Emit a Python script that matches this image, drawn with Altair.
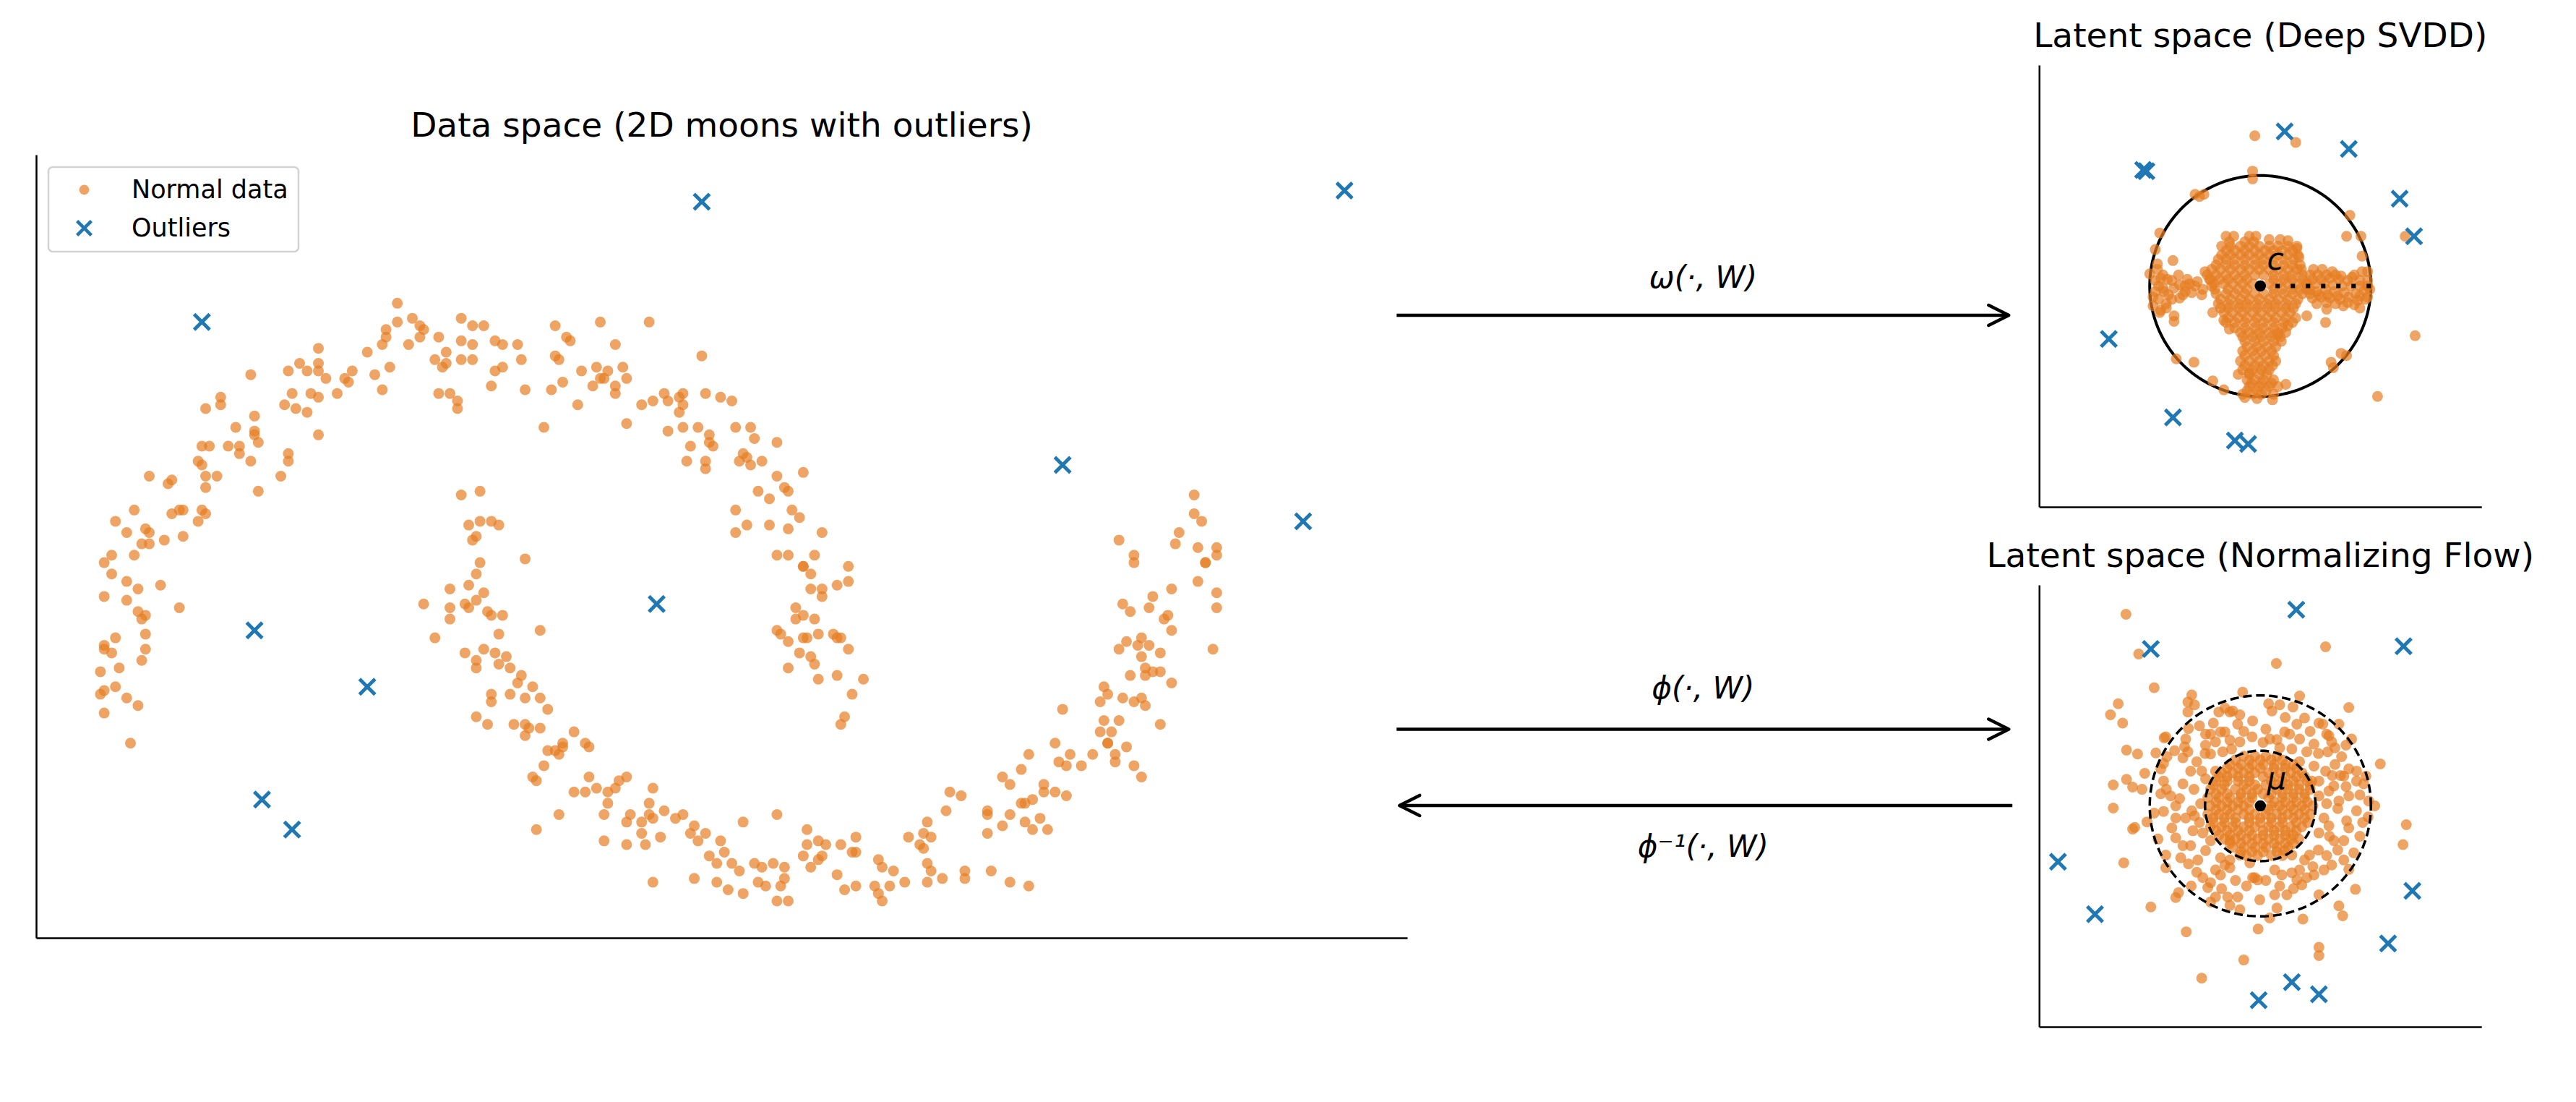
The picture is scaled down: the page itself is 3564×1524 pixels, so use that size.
import altair as alt
import pandas as pd

# ---------------------------------------------------------------- data space: 2D moons
# upper moon (data units)
moon_up_a_x = [-0.21,-0.21,-0.17,-0.15,-0.14,-0.24,-0.24,-0.25,-0.29,-0.18,
               -0.15,-0.10,-0.04,-0.01,0.02,-0.04,-0.01,-0.08,-0.11,-0.08,
               -0.09,-0.04,-0.01,0.05,0.07,0.11,0.05,0.07,0.12,0.04,
               0.13,0.21,0.24,0.25,0.33,0.37,0.46,0.21,0.22,0.23,
               0.20,0.28,0.32,0.35,0.39,0.40,0.33,0.34,0.31,0.37,
               0.37,0.27,0.18,0.40,0.44,0.47,0.50,0.51,0.54,0.55,
               0.55,0.54,0.55,0.51,0.57,0.56]
moon_up_a_y = [1.03,0.98,0.99,0.97,0.96,0.96,0.94,0.92,0.90,0.92,
               0.94,0.94,0.99,0.97,0.97,0.93,0.92,0.90,0.88,0.87,
               0.86,0.88,0.88,0.93,0.92,0.92,0.85,0.86,0.88,0.81,
               0.80,0.97,0.94,0.93,0.98,0.92,0.98,0.89,0.88,0.82,
               0.80,0.85,0.86,0.85,0.86,0.83,0.83,0.83,0.81,0.81,
               0.79,0.76,0.70,0.71,0.76,0.77,0.79,0.77,0.78,0.79,
               0.76,0.74,0.70,0.69,0.65,0.61]
moon_up_b_x = [-0.42,-0.47,-0.45,-0.42,-0.42,-0.50,-0.40,-0.35,-0.33,-0.34,
               -0.37,-0.27,-0.23,-0.25,-0.60,-0.49,-0.51,-0.48,-0.45,-0.44,
               -0.42,-0.42,-0.68,-0.68,-0.72,-0.59,-0.64,-0.59,-0.59,-0.58,
               -0.66,-0.63,-0.63,-0.60,-0.73,-0.71,-0.50,-0.50,-0.52,-0.74,
               -0.73,-0.72,-0.69,-0.72,-0.87,-0.82,-0.81,-0.58,-0.10,-0.07,
               -0.05,-0.05]
moon_up_b_y = [0.91,0.87,0.85,0.87,0.85,0.85,0.83,0.83,0.85,0.82,
               0.79,0.84,0.86,0.80,0.84,0.79,0.76,0.75,0.74,0.79,
               0.78,0.68,0.78,0.76,0.75,0.73,0.70,0.69,0.68,0.66,
               0.65,0.65,0.63,0.61,0.65,0.65,0.63,0.61,0.57,0.61,
               0.60,0.57,0.57,0.54,0.57,0.55,0.56,0.53,0.79,0.79,
               0.77,0.75]
moon_up_c_x = [-0.91,-0.81,-0.79,-0.78,-0.73,-0.72,-0.74,-0.96,-0.93,-0.88,
               -0.87,-0.83,-0.78,-0.89,-0.87,-0.99,-0.97,-0.91,-0.97,-0.93,
               -0.90,-0.84,-0.99,-0.93,-0.90,-0.88,-0.89,-0.79,-0.88,-0.96,
               -0.99,-0.99,-0.97,-0.88,-0.89,-0.95,-1.00,-1.00,-0.99,-0.96,
               -0.93,-0.90,-0.99,-0.92]
moon_up_c_y = [0.48,0.47,0.48,0.48,0.48,0.47,0.45,0.45,0.42,0.43,
               0.42,0.40,0.41,0.39,0.39,0.34,0.36,0.36,0.31,0.29,
               0.27,0.28,0.25,0.24,0.21,0.20,0.19,0.22,0.15,0.14,
               0.12,0.11,0.10,0.11,0.08,0.06,0.05,-0.01,0.00,0.01,
               -0.02,-0.04,-0.06,-0.14]
moon_up_d_x = [0.60,0.61,0.65,0.68,0.59,0.62,0.62,0.63,0.69,0.73,
               0.74,0.80,0.71,0.72,0.70,0.73,0.76,0.61,0.61,0.80,
               0.82,0.83,0.75,0.78,0.87,
               0.69,0.84,0.86,0.69,0.72,0.78,0.83,0.92,0.80,0.83,
               0.90,0.87,0.87,0.89,0.99,0.89,0.92,0.92,0.96,0.99,
               0.85,0.85,0.87,0.90,0.80,0.81,0.83,0.87,0.88,0.91,
               0.95,0.97,0.96,0.99,0.86,0.89,0.90,0.83,0.91,0.96,
               1.03,1.00,0.98,0.97]
moon_up_d_y = [0.89,0.79,0.78,0.77,0.70,0.68,0.66,0.65,0.70,0.70,
               0.67,0.66,0.63,0.62,0.61,0.60,0.61,0.61,0.59,0.57,
               0.54,0.53,0.53,0.51,0.58,
               0.48,0.48,0.46,0.42,0.44,0.44,0.43,0.42,0.36,0.36,
               0.36,0.33,0.33,0.31,0.33,0.27,0.27,0.25,0.28,0.29,
               0.22,0.19,0.20,0.19,0.16,0.15,0.13,0.14,0.14,0.15,
               0.15,0.14,0.14,0.11,0.10,0.09,0.07,0.06,0.03,0.04,
               0.03,-0.01,-0.07,-0.09]
# lower moon
moon_lo_a_x = [-0.04,0.01,1.91,
               -0.02,0.01,0.04,0.06,-0.01,0.00,0.13,0.01,0.00,-0.02,
               -0.07,0.02,0.00,-0.03,-0.02,-0.14,-0.07,-0.07,0.03,0.04,
               0.07,0.06,0.17,-0.11,-0.03,0.02,0.05,0.08,0.00,0.00,
               0.06,0.09,0.12,0.11,0.15,0.04,0.09,0.13,0.17,0.04,
               0.19,0.00,0.03,0.10,0.13,0.14,0.17,0.13,0.26,0.23,
               0.23,0.29,0.30,0.19,0.21,0.22,0.18,0.15,0.16,0.30,
               0.40,0.38,0.37,0.35,0.26,0.29,0.32,0.47,0.35,0.34,
               0.46,0.50,0.46,0.47,0.44,0.41,0.40,0.53,0.55,0.22,
               0.16,0.57,0.34,0.40,0.45,0.44,0.49,0.47]
moon_lo_a_y = [0.52,0.53,0.52,
               0.44,0.45,0.45,0.44,0.40,0.41,0.35,0.34,0.31,0.28,
               0.27,0.26,0.24,0.23,0.22,0.23,0.22,0.19,0.21,0.20,
               0.20,0.15,0.16,0.14,0.10,0.11,0.10,0.09,0.08,0.06,
               0.07,0.06,0.04,0.02,0.01,-0.01,-0.01,-0.02,-0.02,-0.03,
               -0.05,-0.07,-0.09,-0.09,-0.09,-0.10,-0.10,-0.12,-0.11,-0.14,
               -0.15,-0.14,-0.15,-0.16,-0.16,-0.17,-0.20,-0.23,-0.24,-0.23,
               -0.23,-0.24,-0.26,-0.27,-0.27,-0.27,-0.26,-0.26,-0.30,-0.33,
               -0.30,-0.32,-0.33,-0.34,-0.35,-0.33,-0.35,-0.34,-0.33,-0.33,
               -0.37,-0.38,-0.40,-0.41,-0.41,-0.38,-0.39,-0.51]
moon_lo_b_x = [1.91,1.93,1.87,1.86,1.92,1.97,1.97,1.94,1.94,1.71,
               1.75,1.75,1.85,1.80,1.79,1.72,1.74,1.84,1.83,1.85,
               1.97,1.97,1.92,1.96,1.73,1.71,1.76,1.77,1.79,1.77,
               1.82,1.78,1.78,1.74,1.80,1.82,1.85,1.67,1.68,1.66,
               1.72,1.75,1.77,1.78,1.56,1.67,1.71,1.66,1.69,1.68,
               1.68,1.73,1.82,1.70,1.70,1.75,1.77,1.54,1.58,1.55,
               1.57,1.61,1.64,1.47,1.45,1.40,1.42,1.51,1.51,1.54,
               1.57,1.45,1.46,1.48,1.26,1.29,1.25,1.36,1.36,1.42,
               1.40,1.46,1.50,1.48,1.52,1.36,1.20,1.15,1.19,1.21,
               1.18,1.19,0.80,0.71,0.88,0.91,0.88,0.93,0.97,1.01,
               1.01,1.00,0.87,0.92,0.91,0.89,0.65,0.62,0.66,0.64,
               0.68,0.70,0.74,0.76,0.79,0.82,0.82,0.81,0.80,0.83,
               0.75,0.77,0.71,0.67,0.64,0.58,0.59,0.61,0.58,0.96,
               0.98,1.01,1.07,1.08,1.11,1.06,1.07,1.08,1.10,1.14,
               1.20,1.21,1.24,1.20,1.30,1.30,1.37,1.42,1.47]
moon_lo_b_y = [0.47,0.45,0.42,0.39,0.38,0.38,0.36,0.34,0.34,0.40,
               0.36,0.34,0.27,0.25,0.22,0.23,0.21,0.20,0.19,0.16,
               0.26,0.22,0.29,0.11,0.13,0.11,0.12,0.14,0.12,0.09,
               0.10,0.06,0.04,0.04,0.05,0.05,0.02,0.01,-0.01,-0.03,
               -0.02,-0.03,-0.02,-0.04,-0.05,-0.08,-0.08,-0.11,-0.11,-0.14,
               -0.14,-0.15,-0.09,-0.17,-0.19,-0.20,-0.23,-0.14,-0.17,-0.19,
               -0.20,-0.20,-0.17,-0.17,-0.21,-0.23,-0.25,-0.25,-0.27,-0.27,
               -0.28,-0.30,-0.30,-0.29,-0.27,-0.28,-0.32,-0.32,-0.33,-0.33,
               -0.36,-0.35,-0.34,-0.37,-0.37,-0.38,-0.35,-0.39,-0.38,-0.39,
               -0.41,-0.42,-0.33,-0.35,-0.37,-0.40,-0.41,-0.41,-0.41,-0.39,
               -0.43,-0.43,-0.44,-0.44,-0.45,-0.47,-0.40,-0.44,-0.43,-0.46,
               -0.46,-0.48,-0.46,-0.47,-0.46,-0.47,-0.50,-0.52,-0.56,-0.56,
               -0.51,-0.52,-0.54,-0.53,-0.51,-0.50,-0.40,-0.38,-0.36,-0.49,
               -0.53,-0.52,-0.45,-0.47,-0.48,-0.52,-0.54,-0.56,-0.52,-0.51,
               -0.46,-0.48,-0.50,-0.51,-0.48,-0.50,-0.48,-0.51,-0.52]
data_out_x = [-0.73, 0.60, 2.31, -0.59, -0.29, 0.48, 1.56, 2.20, -0.57, -0.49]
data_out_y = [0.98, 1.30, 1.33, 0.16, 0.01, 0.23, 0.60, 0.45, -0.29, -0.37]
DATA_XDOM = [-1.171, 2.477]
DATA_YDOM = [-0.658, 1.425]

# ---------------------------------------------------------------- latent space: Deep SVDD
svdd_edge_x = [-0.05,0.32,-0.07,-0.07,-0.59,-0.55,-0.51,0.81,0.78,0.91,
               1.31,-0.91,-0.95,-0.79,-0.93,-1.00,0.92,0.97,0.85,1.40,
               1.06,0.60,0.59,0.42,0.73,0.78,0.64,0.66,-0.76,-0.60,
               -0.43,-0.33,-0.78,-0.78,-0.43,-0.91,0.23,-0.14,-0.03,0.11,
               -0.20,-0.10]
svdd_edge_y = [1.36,1.30,1.04,0.97,0.83,0.81,0.83,0.64,0.45,0.45,
               0.45,0.48,0.33,0.23,0.20,0.11,0.27,0.13,0.10,-0.45,
               -1.00,-0.21,-0.33,-0.27,-0.61,-0.63,-0.69,-0.74,-0.66,-0.69,
               -0.86,-0.94,-0.27,-0.32,-0.24,-0.24,-0.89,-1.01,-1.02,-1.03,
               -0.80,-0.79]
svdd_band_x = [-0.90,-0.84,-0.92,-0.87,-0.83,-0.97,-0.92,-0.85,-0.90,-0.74,
               -0.73,-0.68,-0.64,-0.73,-0.70,-0.59,-0.53,-0.52,-0.50,-0.46,
               -0.44,-0.95,-0.88,-0.80,-0.78,-0.95,-0.88,-0.80,-0.68,-0.62,
               -0.57,-0.66,-0.85,-0.97,-0.93,
               0.48,0.56,0.65,0.73,0.92,0.47,0.55,0.63,0.71,0.79,
               0.42,0.51,0.59,0.67,0.76,0.86,0.94,0.99,0.47,0.55,
               0.63,0.72,0.79,0.88,0.95,0.75,0.90,0.51,
               0.45,0.52,0.60,0.68,0.83,0.90,0.97,0.45,0.53,0.61,
               0.70,0.80,0.90,0.97,0.60,0.68,0.85,0.42,0.50,0.58,
               0.66,0.74,0.82,0.90,0.97,
               0.18,0.33,0.35,0.25,0.08,0.37,0.32,0.25,0.16,-0.28,-0.33]
svdd_band_y = [0.07,0.06,0.00,-0.05,-0.08,-0.10,-0.12,-0.16,-0.22,0.10,
               0.01,0.00,0.02,-0.11,-0.08,0.00,-0.08,-0.03,0.13,0.06,
               0.00,0.05,0.10,0.05,-0.02,-0.05,-0.02,-0.12,-0.05,-0.06,
               0.04,0.06,-0.20,-0.18,0.15,
               0.15,0.15,0.13,0.09,0.13,0.06,0.06,0.07,0.06,0.05,
               -0.03,-0.05,-0.03,-0.05,-0.06,-0.07,-0.04,-0.03,-0.11,-0.10,
               -0.11,-0.12,-0.15,-0.13,-0.12,-0.18,-0.20,-0.16,
               0.10,0.10,0.10,0.10,0.08,0.05,0.05,-0.07,-0.08,-0.08,
               -0.09,-0.10,-0.09,-0.10,-0.15,-0.16,-0.17,0.02,0.02,0.02,
               0.01,0.00,0.00,0.00,0.00,
               0.42,0.34,0.26,0.41,0.42,0.15,-0.29,-0.36,-0.44,-0.39,-0.31]
# dense core, read row by row (row height, x positions in that row)
svdd_core_row_y = [0.45, 0.40, 0.36, 0.32, 0.28, 0.24, 0.19, 0.15, 0.10, 0.06,
                   0.02, -0.03, -0.07, -0.12, -0.16, -0.20, -0.24, -0.29, -0.33,
                   -0.38, -0.42, -0.46, -0.50, -0.55, -0.59, -0.63, -0.68, -0.72,
                   -0.76, -0.80, -0.85, -0.88, -0.91, -0.95, -0.98]
svdd_core_row_x = [
    [-0.31,-0.24,-0.10,-0.04],
    [-0.28,-0.14,-0.06],
    [-0.35,-0.27,-0.18,-0.10,-0.01,0.08,0.16,0.25,0.33],
    [-0.31,-0.23,-0.14,-0.05,0.04,0.12,0.20,0.29],
    [-0.35,-0.27,-0.18,-0.10,-0.01,0.08,0.16,0.25,0.34],
    [-0.38,-0.31,-0.23,-0.14,-0.05,0.03,0.12,0.21,0.30],
    [-0.40,-0.31,-0.23,-0.14,-0.05,0.03,0.12,0.21,0.29,0.36],
    [-0.44,-0.36,-0.27,-0.18,-0.10,-0.01,0.08,0.16,0.25,0.33],
    [-0.48,-0.40,-0.31,-0.23,-0.14,-0.05,0.03,0.12,0.21,0.29,0.38],
    [-0.45,-0.37,-0.29,-0.20,-0.12,0.12,0.21,0.29,0.38],
    [-0.42,-0.33,-0.25,-0.16,-0.07,0.08,0.16,0.25,0.34,0.42],
    [-0.41,-0.29,-0.20,-0.12,0.12,0.20,0.29,0.36,0.45],
    [-0.40,-0.31,-0.23,-0.14,-0.05,0.03,0.12,0.21,0.29,0.38],
    [-0.36,-0.27,-0.18,-0.10,-0.01,0.08,0.16,0.25,0.34],
    [-0.38,-0.29,-0.20,-0.12,-0.03,0.06,0.14,0.23,0.32],
    [-0.36,-0.29,-0.20,-0.12,-0.03,0.06,0.14,0.23,0.30],
    [-0.33,-0.25,-0.16,-0.07,0.01,0.10,0.19,0.27],
    [-0.29,-0.20,-0.12,-0.03,0.06,0.14,0.23],
    [-0.31,-0.23,-0.14,-0.05,0.03,0.12,0.21,0.29],
    [-0.23,-0.14,-0.05,0.03,0.12,0.20],
    [-0.18,-0.10,-0.01,0.08,0.16,0.23],
    [-0.16,-0.07,0.01,0.10,0.18],
    [-0.14,-0.05,0.03,0.12,0.19],
    [-0.12,-0.03,0.06,0.14],
    [-0.16,-0.07,0.01,0.10],
    [-0.14,-0.05,0.04,0.12],
    [-0.18,-0.10,-0.01,0.08,0.14],
    [-0.14,-0.05,0.03,0.11],
    [-0.16,-0.07,0.01,0.08],
    [-0.10,-0.01,0.06],
    [-0.12,-0.05,0.03,0.12],
    [-0.08,0.01,0.10],
    [-0.10,-0.01,0.08,0.16],
    [-0.12,-0.03,0.05],
    [-0.16,-0.07,0.01,0.12],
]
svdd_out_x = [0.22, 0.80, -1.06, -1.03, 1.26, 1.39, -1.37, -0.79, -0.23, -0.11]
svdd_out_y = [1.40, 1.24, 1.05, 1.04, 0.79, 0.45, -0.48, -1.19, -1.40, -1.43]
SVDD_R = 1.0
SVDD_DOM = [-2.0, 2.0]

# ---------------------------------------------------------------- latent space: normalizing flow
flow_outer_x = [-2.43,-2.20,1.18,0.29,-1.92,-2.57,-2.71,-2.49,1.60,2.17,
                2.64,2.58,-2.42,-2.22,-2.66,-2.66,-2.09,-2.14,-2.42,-2.31,
                -2.31,-2.27,-2.47,-1.98,-2.05,-1.92,-1.89,-1.74,-1.75,-1.34,
                -0.30,-1.06,-0.04,0.77,1.06,1.06,1.42,1.49,1.72,0.71,
                -0.32,-1.24,-1.31]
flow_outer_y = [3.47,2.75,2.88,2.58,2.14,1.85,1.65,1.50,1.78,0.76,
                -0.34,-0.70,1.01,0.94,0.38,-0.04,0.59,0.30,0.48,0.34,
                -0.42,-0.39,-1.03,-1.83,-0.29,-0.13,0.96,1.23,0.77,-2.28,
                -2.79,-3.12,-2.23,-2.05,-2.56,-2.71,-1.81,-1.99,-1.51,1.99,
                2.06,2.01,1.88]
flow_ring_x = [-1.31,-1.19,-1.71,-1.35,-1.37,-1.31,-1.40,-0.99,-0.90,-0.72,
               -0.64,-0.55,-0.99,-0.81,-0.90,-0.68,-0.52,-0.37,-0.41,-0.55,
               -1.15,-1.26,-1.06,-1.69,-1.80,-1.75,-1.80,-1.62,-1.46,-1.53,
               -1.24,-1.19,-1.08,-0.99,-0.81,
               -0.50,-0.37,-0.64,-0.14,0.21,0.35,0.59,0.80,1.06,1.20,1.42,
               0.10,0.17,0.44,0.53,0.66,0.71,0.57,0.71,0.84,0.97,
               1.13,1.24,1.29,1.22,1.47,1.65,1.60,1.74,1.74,1.87,
               1.91,1.51,1.33,1.24,1.06,1.20,1.42,1.60,1.74,1.96,
               2.07,0.97,1.06,0.93,1.18,
               1.15,1.24,1.06,1.33,1.56,1.60,1.51,1.69,1.51,1.29,
               1.15,0.97,0.84,0.80,0.89,0.71,0.66,0.57,0.39,0.26,
               0.48,0.26,-0.01,-0.10,0.17,0.75,1.06,0.57,0.44,
               -1.53,-1.35,-1.53,-1.40,-1.44,-1.26,-1.71,-1.71,-1.48,-1.53,
               -1.04,-0.90,-0.72,-0.64,-0.81,-0.95,-0.81,-0.59,-0.41,-0.37,
               -0.90,-1.13,-0.99,-1.22,-1.04,-0.90,-0.72,-0.55,-0.37,-0.14,
               -0.05,-0.55,-0.19,-0.55,
               -1.10,-0.85,-0.30,-0.15,0.05,0.30,0.35,0.90,1.05,1.35,
               1.45,1.30,1.55,1.80,1.40,1.85,1.80,1.40,1.25,1.05,
               1.20,0.95,0.60,0.35,0.10,-0.25,-0.45,-0.70,-1.15,-1.30,
               -1.60,-1.75,-1.70,-1.40,-1.20,-1.10,-1.30,-0.75,-1.55,-1.00,
               0.15,0.45,1.35,1.55,1.95,1.60,0.30,-0.55,-1.25,-1.85]
flow_ring_y = [1.70,1.83,1.25,1.21,1.07,0.98,0.87,1.30,1.30,1.34,
               1.34,1.19,1.10,1.16,0.94,0.98,1.03,1.16,1.48,1.70,
               0.80,0.63,0.63,0.89,0.67,0.45,0.22,0.18,0.13,0.00,
               -0.09,-0.18,0.04,0.49,0.63,
               1.72,1.65,1.77,1.54,1.72,1.83,1.79,1.59,1.50,1.30,1.48,
               1.39,1.21,1.34,1.30,1.48,1.21,1.03,0.80,0.98,1.12,
               1.48,1.27,1.16,0.98,0.89,1.21,0.67,0.63,0.45,0.40,
               0.54,0.54,0.36,0.27,0.18,0.04,0.09,0.18,-0.09,0.09,
               0.00,0.72,0.45,0.45,0.63,
               -0.22,-0.36,-0.49,-0.63,-0.27,-0.40,-0.63,-0.85,-0.98,-1.07,
               -1.16,-1.25,-1.30,-0.98,-0.89,-1.16,-1.34,-1.21,-1.25,-1.16,
               -1.61,-1.61,-1.70,-1.30,-2.03,-1.43,-1.61,-0.89,-0.81,
               -0.22,-0.22,-0.58,-0.72,-0.94,-0.72,-0.89,-1.12,-1.57,-1.66,
               -1.30,-1.39,-1.25,-1.07,-1.16,-1.48,-1.65,-1.65,-1.65,-1.88,
               -1.74,-0.98,-0.81,-0.45,-0.49,-0.63,-0.94,-0.98,-0.89,-1.30,
               -1.34,-1.12,-1.03,-0.63,
               1.45,1.50,1.35,1.25,1.15,1.20,1.05,1.35,0.95,0.75,
               0.55,0.55,0.35,0.20,-0.05,-0.30,-0.55,-0.80,-0.55,-0.80,
               -0.90,-1.10,-1.50,-1.45,-1.35,-1.45,-1.35,-1.50,-1.20,-1.05,
               -0.40,-0.10,0.30,0.40,0.30,-0.30,1.40,1.70,1.00,0.95,
               1.85,1.60,1.05,1.10,-0.20,-1.15,-1.85,-1.80,-1.45,-0.60]
# dense core inside the 1-sigma circle, read row by row
flow_core_row_y = [0.90, 0.83, 0.75, 0.68, 0.60, 0.53, 0.45, 0.38, 0.30, 0.22,
                   0.15, 0.07, 0.00, -0.07, -0.15, -0.22, -0.30, -0.38, -0.45,
                   -0.53, -0.60, -0.68, -0.75, -0.83, -0.90]
flow_core_row_x = [
    [-0.30,-0.10,0.10,0.30],
    [-0.45,-0.20,0.00,0.20,0.40],
    [-0.55,-0.35,-0.15,0.05,0.25,0.45,0.60],
    [-0.60,-0.40,-0.20,0.00,0.25,0.45,0.65],
    [-0.70,-0.50,-0.30,-0.10,0.15,0.35,0.55,0.75],
    [-0.75,-0.60,-0.40,-0.20,0.05,0.25,0.45,0.65,0.80],
    [-0.80,-0.60,-0.40,-0.20,0.20,0.40,0.60,0.85],
    [-0.85,-0.65,-0.30,-0.10,0.10,0.30,0.50,0.70,0.90],
    [-0.90,-0.70,-0.45,-0.25,-0.05,0.30,0.50,0.70,0.90],
    [-0.80,-0.60,-0.35,-0.15,0.05,0.20,0.40,0.60,0.80],
    [-0.95,-0.75,-0.55,-0.35,-0.15,0.15,0.40,0.60,0.80],
    [-0.80,-0.60,-0.40,-0.20,0.25,0.45,0.65,0.85],
    [-0.90,-0.70,-0.50,-0.30,0.20,0.35,0.55,0.75,0.95],
    [-0.80,-0.60,-0.40,-0.20,0.15,0.40,0.60,0.80],
    [-0.95,-0.75,-0.55,-0.30,-0.10,0.10,0.30,0.50,0.70,0.90],
    [-0.85,-0.65,-0.45,-0.20,0.00,0.20,0.40,0.60,0.80],
    [-0.85,-0.65,-0.45,-0.20,0.00,0.20,0.40,0.65,0.85],
    [-0.90,-0.70,-0.50,-0.30,-0.10,0.15,0.35,0.55,0.75],
    [-0.80,-0.60,-0.40,-0.20,0.05,0.25,0.45,0.65],
    [-0.75,-0.55,-0.35,-0.15,0.05,0.25,0.45,0.60],
    [-0.65,-0.45,-0.25,-0.05,0.15,0.35,0.55,0.70],
    [-0.55,-0.35,-0.15,0.05,0.25,0.45,0.60],
    [-0.50,-0.30,-0.10,0.10,0.30,0.50],
    [-0.35,-0.15,0.05,0.30],
    [-0.25,-0.05,0.20,0.40],
]
flow_out_x = [0.65, -1.98, 2.59, -3.66, -2.99, 2.75, 2.31, 0.57, -0.03, 1.06]
flow_out_y = [3.55, 2.84, 2.89, -1.01, -1.96, -1.54, -2.49, -3.19, -3.52, -3.41]
FLOW_R1, FLOW_R2 = 1.0, 2.0
FLOW_DOM = [-4.0, 4.0]

# ---------------------------------------------------------------- mapping arrows (in each latent panel's units)
svdd_arrow_from = [-7.810]
svdd_arrow_to = [-2.2745]
svdd_arrow_y = [-0.265]
svdd_arrow_dir = ["right"]
svdd_arrow_label = ["ω(·, W)"]
svdd_label_x = [-5.039]
svdd_label_y = [0.072]

flow_arrow_from = [-15.621, -4.484]
flow_arrow_to = [-4.549, -15.569]
flow_arrow_y = [1.388, 0.007]
flow_arrow_dir = ["right", "left"]
flow_arrow_label = ["ϕ(·, W)", "ϕ⁻¹(·, W)"]
flow_label_x = [-10.078, -10.078]
flow_label_y = [2.115, -0.753]

TITLES = ["Data space (2D moons with outliers)",
          "Latent space (Deep SVDD)",
          "Latent space (Normalizing Flow)"]
KINDS = ["Normal data", "Outliers"]

# ---------------------------------------------------------------- styles
ORANGE = "#e67e22"
BLUE = "#1f77b4"
FONT = "DejaVu Sans"
PT_SIZE = 225
X_PATH = ("M -1.2 -1.667 L 0 -0.467 L 1.2 -1.667 L 1.667 -1.2 L 0.467 0 "
          "L 1.667 1.2 L 1.2 1.667 L 0 0.467 L -1.2 1.667 L -1.667 1.2 "
          "L -0.467 0 L -1.667 -1.2 Z")
HEAD_R = "M -2 -1 L 0 0 L -2 1"
HEAD_L = "M 2 -1 L 0 0 L 2 1"

AX = alt.Axis(title=None, labels=False, ticks=False, grid=False,
              domain=True, domainColor="black", domainWidth=2.5)


def flat_rows(row_y, row_x):
    xs, ys = [], []
    for yv, xr in zip(row_y, row_x):
        xs += xr
        ys += [yv] * len(xr)
    return xs, ys


def enc(dom_x, dom_y, xf="x", yf="y"):
    return dict(
        x=alt.X(f"{xf}:Q", scale=alt.Scale(domain=dom_x, nice=False, zero=False), axis=AX),
        y=alt.Y(f"{yf}:Q", scale=alt.Scale(domain=dom_y, nice=False, zero=False), axis=AX),
    )


# ---------------------------------------------------------------- main panel
normal_x = moon_up_a_x + moon_up_b_x + moon_up_c_x + moon_up_d_x + moon_lo_a_x + moon_lo_b_x
normal_y = moon_up_a_y + moon_up_b_y + moon_up_c_y + moon_up_d_y + moon_lo_a_y + moon_lo_b_y
n = min(len(normal_x), len(normal_y))
main_df = pd.DataFrame({
    "x": normal_x[:n] + data_out_x,
    "y": normal_y[:n] + data_out_y,
    "kind": [KINDS[0]] * n + [KINDS[1]] * len(data_out_x),
})
leg = alt.Legend(title=None, orient="top-left", offset=17)
main = alt.Chart(main_df).mark_point(filled=True, size=PT_SIZE).encode(
    **enc(DATA_XDOM, DATA_YDOM),
    color=alt.Color("kind:N", scale=alt.Scale(domain=KINDS, range=[ORANGE, BLUE]), legend=leg),
    shape=alt.Shape("kind:N", scale=alt.Scale(domain=KINDS, range=["circle", X_PATH]), legend=leg),
    opacity=alt.Opacity("kind:N", scale=alt.Scale(domain=KINDS, range=[0.7, 1.0]), legend=leg),
).properties(width=1897, height=1083, title=TITLES[0])

spacer = alt.Chart(pd.DataFrame({"v": [0]})).mark_point(opacity=0).encode(
    x=alt.X("v:Q", axis=None), y=alt.Y("v:Q", axis=None)
).properties(width=1897, height=61)

main_col = alt.vconcat(spacer, main, spacing=0).resolve_scale(
    color="independent", shape="independent", opacity="independent"
).resolve_legend(color="independent", shape="independent", opacity="independent")


# ---------------------------------------------------------------- latent panels
def scatter_layers(nx, ny, ox, oy, dom):
    m = min(len(nx), len(ny))
    normal = alt.Chart(pd.DataFrame({"x": nx[:m], "y": ny[:m]})).mark_point(
        filled=True, size=PT_SIZE, color=ORANGE, opacity=0.7, shape="circle"
    ).encode(**enc(dom, dom))
    outl = alt.Chart(pd.DataFrame({"x": ox, "y": oy})).mark_point(
        filled=True, size=PT_SIZE, color=BLUE, opacity=1, shape=X_PATH
    ).encode(**enc(dom, dom))
    return normal, outl


def ring(radius, dom, width, dash=None):
    kw = dict(color="black", strokeWidth=width)
    if dash:
        kw["strokeDash"] = dash
    return alt.Chart(alt.sequence(0, 362, 2, as_="t")).transform_calculate(
        x=f"{radius}*cos(datum.t*PI/180)", y=f"{radius}*sin(datum.t*PI/180)"
    ).mark_line(**kw).encode(**enc(dom, dom), order="t:Q")


def centre(dom, label, lx, ly):
    dot = alt.Chart(pd.DataFrame({"x": [0.0], "y": [0.0]})).mark_point(
        filled=True, color="black", size=240, opacity=1
    ).encode(**enc(dom, dom))
    txt = alt.Chart(pd.DataFrame({"x": [lx], "y": [ly], "t": [label]})).mark_text(
        align="left", baseline="alphabetic", fontStyle="italic", font=FONT,
        fontSize=42, color="black"
    ).encode(**enc(dom, dom), text="t:N")
    return dot, txt


def arrows(dom, x0, x1, ys, dirs, lx, ly, texts):
    adf = pd.DataFrame({"x": x0, "x1": x1, "y": ys, "dir": dirs})
    ldf = pd.DataFrame({"x": lx, "y": ly, "t": texts})
    shaft = alt.Chart(adf).mark_rule(color="black", strokeWidth=4.5).encode(
        **enc(dom, dom), x2="x1:Q")
    head = alt.Chart(adf).mark_point(
        filled=False, size=784, color="black", strokeWidth=4.5, opacity=1,
        strokeJoin="round", strokeCap="round"
    ).encode(
        **enc(dom, dom, xf="x1"),
        shape=alt.Shape("dir:N", scale=alt.Scale(domain=["right", "left"], range=[HEAD_R, HEAD_L]),
                        legend=None))
    lab = alt.Chart(ldf).mark_text(
        font=FONT, fontSize=42, fontStyle="italic", color="black", baseline="middle"
    ).encode(**enc(dom, dom), text="t:N")
    return shaft, head, lab


sx_core, sy_core = flat_rows(svdd_core_row_y, svdd_core_row_x)
s_norm, s_out = scatter_layers(svdd_edge_x + svdd_band_x + sx_core,
                               svdd_edge_y + svdd_band_y + sy_core,
                               svdd_out_x, svdd_out_y, SVDD_DOM)
s_radius = alt.Chart(pd.DataFrame({"x": [0.0], "x2": [SVDD_R], "y": [0.0]})).mark_rule(
    color="black", strokeWidth=6, strokeDash=[6, 15], strokeCap="butt"
).encode(**enc(SVDD_DOM, SVDD_DOM), x2="x2:Q")
s_dot, s_txt = centre(SVDD_DOM, "c", 0.06, 0.15)
s_arr = arrows(SVDD_DOM, svdd_arrow_from, svdd_arrow_to, svdd_arrow_y, svdd_arrow_dir,
               svdd_label_x, svdd_label_y, svdd_arrow_label)
svdd = alt.layer(
    ring(SVDD_R, SVDD_DOM, 4), s_norm, s_out, s_radius, s_dot, s_txt, *s_arr
).properties(width=612, height=611, title=TITLES[1])

fx_core, fy_core = flat_rows(flow_core_row_y, flow_core_row_x)
f_norm, f_out = scatter_layers(flow_outer_x + flow_ring_x + fx_core,
                               flow_outer_y + flow_ring_y + fy_core,
                               flow_out_x, flow_out_y, FLOW_DOM)
f_dot, f_txt = centre(FLOW_DOM, "μ", 0.12, 0.31)
f_arr = arrows(FLOW_DOM, flow_arrow_from, flow_arrow_to, flow_arrow_y, flow_arrow_dir,
               flow_label_x, flow_label_y, flow_arrow_label)
flow = alt.layer(
    f_norm, ring(FLOW_R1, FLOW_DOM, 3.5, [12, 6]), ring(FLOW_R2, FLOW_DOM, 3.5, [12, 6]),
    f_out, f_dot, f_txt, *f_arr
).properties(width=612, height=611, title=TITLES[2])

right_col = alt.vconcat(svdd, flow, spacing=108, bounds="flush")

chart = alt.hconcat(main_col, right_col, spacing=-17.75).resolve_scale(
    color="independent", shape="independent", opacity="independent"
).resolve_legend(
    color="independent", shape="independent", opacity="independent"
).properties(
    padding={"left": 42, "top": 19, "right": 5, "bottom": 5}
).configure(font=FONT).configure_view(stroke=None).configure_title(
    font=FONT, fontSize=47, fontWeight="normal", color="black", offset=15,
    anchor="middle", frame="group"
).configure_legend(
    labelFont=FONT, labelFontSize=35, labelColor="black", labelLimit=0, padding=14,
    rowPadding=17, symbolOffset=18, labelOffset=48, strokeColor="#d3d3d3", strokeWidth=2.5,
    cornerRadius=6, fillColor="white", symbolSize=190
)

chart.save("out.html", embed_options={"renderer": "svg", "actions": False})
